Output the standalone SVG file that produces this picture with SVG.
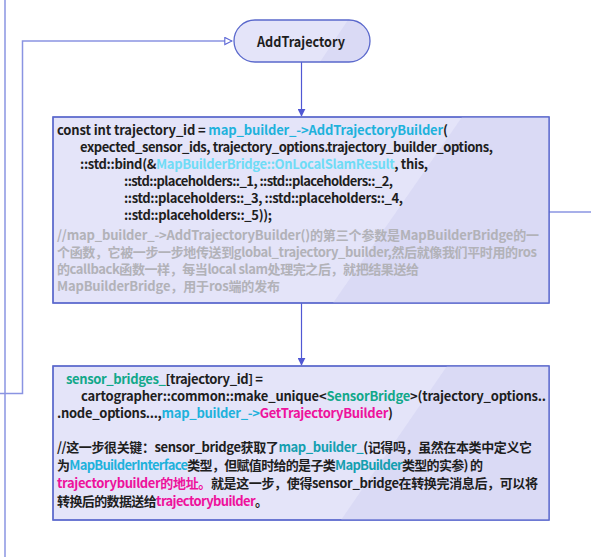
<svg xmlns="http://www.w3.org/2000/svg" width="591" height="557" viewBox="0 0 591 557">
<style>
.box{fill:#e4e4f9;stroke:#5a68cc;stroke-width:1.3}
.shade{fill:#dadaf5}
.t{font-family:"Noto Sans CJK SC","Noto Sans",sans-serif;font-weight:bold;font-size:13px;fill:#1e1e1e}
.g{fill:#b2b2b8}
.cy{fill:#1fb2dc}
.lc{fill:#6fdcf6}
.gr{fill:#12a88a}
.tl{fill:#159fb0}
.mg{fill:#ee129c}
.line{fill:none;stroke:#5058d4;stroke-width:1.2}
.side{fill:none;stroke:#8a94e2;stroke-width:1.5}
</style>
<defs>
<marker id="af" viewBox="0 0 10 10" refX="9" refY="5" markerWidth="8" markerHeight="8" markerUnits="userSpaceOnUse" orient="auto"><path d="M0,0 L10,5 L0,10 z" fill="#5058d4"/></marker>
<marker id="ah" viewBox="0 0 10 10" refX="9" refY="5" markerWidth="9" markerHeight="9" markerUnits="userSpaceOnUse" orient="auto"><path d="M1,1 L9,5 L1,9 z" fill="#fff" stroke="#5b66d6" stroke-width="1.2"/></marker>
<clipPath id="c1"><rect x="53" y="117" width="496" height="186"/></clipPath>
<clipPath id="c2"><rect x="53" y="366" width="496" height="154"/></clipPath>
<clipPath id="c0"><rect x="234" y="20" width="136" height="42" rx="21"/></clipPath>
</defs>

<g id="connectors">
<path class="line" d="M301.5,62 V116" marker-end="url(#af)"/>
<path class="line" d="M301.5,303 V365" marker-end="url(#af)"/>
<path class="side" d="M0,393.5 H22.5 V41 H232" marker-end="url(#ah)"/>
<path class="side" d="M5,0 V557"/>
<path class="side" d="M549,212 H591"/>
</g>

<g id="node-addtrajectory">
<rect x="234" y="20" width="136" height="42" rx="21" fill="#e4e4f9"/>
<polygon clip-path="url(#c0)" class="shade" points="348,20 372,20 372,62 320,62"/>
<rect x="234" y="20" width="136" height="42" rx="21" fill="none" stroke="#5a68cc" stroke-width="1.3"/>
<text class="t" x="257" y="46.5" textLength="88" lengthAdjust="spacingAndGlyphs" style="font-size:14px">AddTrajectory</text>
</g>

<g id="node-add-builder">
<rect class="box" x="53" y="117" width="496" height="186"/>
<polygon clip-path="url(#c1)" class="shade" points="462,117 549,117 549,303 333,303"/>
<rect x="53" y="117" width="496" height="186" fill="none" stroke="#5a68cc" stroke-width="1.3"/>
<text class="t" x="57" y="135" textLength="391" lengthAdjust="spacing">const int trajectory_id = <tspan class="cy">map_builder_-&gt;AddTrajectoryBuilder</tspan>(</text>
<text class="t" x="80" y="152" textLength="413" lengthAdjust="spacing">expected_sensor_ids, trajectory_options.trajectory_builder_options,</text>
<text class="t" x="80" y="169" textLength="348" lengthAdjust="spacing">::std::bind(&amp;<tspan class="lc">MapBuilderBridge::OnLocalSlamResult</tspan>, this,</text>
<text class="t" x="124" y="186" textLength="269" lengthAdjust="spacing">::std::placeholders::_1, ::std::placeholders::_2,</text>
<text class="t" x="124" y="203" textLength="279" lengthAdjust="spacing">::std::placeholders::_3, ::std::placeholders::_4,</text>
<text class="t" x="124" y="220" textLength="148" lengthAdjust="spacing">::std::placeholders::_5));</text>
<text class="t g" x="57" y="240" textLength="482" lengthAdjust="spacing">//map_builder_-&gt;AddTrajectoryBuilder()的第三个参数是MapBuilderBridge的一</text>
<text class="t g" x="57" y="257" textLength="480" lengthAdjust="spacing">个函数，它被一步一步地传送到global_trajectory_builder,然后就像我们平时用的ros</text>
<text class="t g" x="57" y="274" textLength="362" lengthAdjust="spacing">的callback函数一样，每当local slam处理完之后，就把结果送给</text>
<text class="t g" x="57" y="291" textLength="223" lengthAdjust="spacing">MapBuilderBridge，用于ros端的发布</text>
</g>

<g id="node-sensor-bridges">
<rect class="box" x="53" y="366" width="496" height="154"/>
<polygon clip-path="url(#c2)" class="shade" points="447,366 549,366 549,520 341,520"/>
<rect x="53" y="366" width="496" height="154" fill="none" stroke="#5a68cc" stroke-width="1.3"/>
<text class="t" x="66" y="384" textLength="197" lengthAdjust="spacing"><tspan class="gr">sensor_bridges_</tspan>[trajectory_id] =</text>
<text class="t" x="81" y="401" textLength="465" lengthAdjust="spacing">cartographer::common::make_unique&lt;<tspan class="gr">SensorBridge</tspan>&gt;(trajectory_options..</text>
<text class="t" x="57" y="418" textLength="336" lengthAdjust="spacing">.node_options...,<tspan class="cy">map_builder_-&gt;</tspan><tspan class="mg">GetTrajectoryBuilder</tspan>)</text>
<text class="t" x="57" y="452" textLength="475" lengthAdjust="spacing">//这一步很关键：sensor_bridge获取了<tspan class="tl">map_builder_</tspan>(记得吗，虽然在本类中定义它</text>
<text class="t" x="57" y="470" textLength="426" lengthAdjust="spacing">为<tspan class="cy">MapBuilderInterface</tspan>类型，但赋值时给的是子类<tspan class="tl">MapBuilder</tspan>类型的实参) 的</text>
<text class="t" x="57" y="488" textLength="481" lengthAdjust="spacing"><tspan class="mg">trajectorybuilder的地址。</tspan>就是这一步，使得sensor_bridge在转换完消息后，可以将</text>
<text class="t" x="57" y="506" textLength="211" lengthAdjust="spacing">转换后的数据送给<tspan class="mg">trajectorybuilder</tspan>。</text>
</g>
</svg>
